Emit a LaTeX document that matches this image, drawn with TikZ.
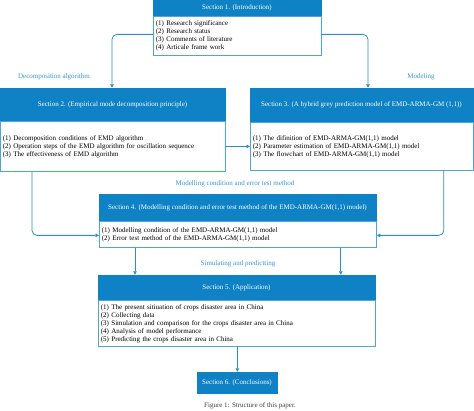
\documentclass[tikz,border=0pt]{standalone}
\usepackage{fontspec}
\setmainfont{Liberation Serif}
\usetikzlibrary{arrows.meta,calc}
\definecolor{hdr}{RGB}{14,130,196}
\definecolor{lnc}{RGB}{40,145,205}
\definecolor{bdc}{RGB}{80,165,215}
\definecolor{lbl}{RGB}{55,150,210}
\tikzset{
  head/.style={fill=hdr, draw=hdr, text=white, inner sep=0pt, font=\fontsize{7}{8}\selectfont, align=center},
  bodybox/.style={draw=bdc, line width=0.8pt, fill=white, inner xsep=2.5pt, inner ysep=0pt, align=left, font=\fontsize{7}{8}\selectfont, anchor=north west},
  conn/.style={draw=lnc, line width=0.8pt, rounded corners=5pt, -{Triangle[length=3.5pt,width=3.5pt]}},
  lab/.style={text=lbl, font=\fontsize{7}{8}\selectfont, inner sep=0pt},
}
\begin{document}
\begin{tikzpicture}[x=1pt,y=-1pt]
\useasboundingbox (0,0) rectangle (474,411);
\clip (0,0) rectangle (474,411);
% Section 1
\node[head, minimum width=168pt, minimum height=16pt] (s1h) at (237,8) {Section 1. (Introduction)};
\node[bodybox, minimum width=168pt, minimum height=39pt, text width=163pt] (s1b) at (153,16) {(1) Research significance\\(2) Research status\\(3) Comments of literature\\(4) Articale frame work};
% Section 2
\node[head, minimum width=225pt, minimum height=33pt] (s2h) at (112.5,104.5) {Section 2. (Empirical mode decomposition principle)};
\node[bodybox, minimum width=225pt, minimum height=50pt, text width=220pt] (s2b) at (0,121) {(1) Decomposition conditions of EMD algorithm\\(2) Operation steps of the EMD algorithm for oscillation sequence\\(3) The effectiveness of EMD algorithm};
% Section 3
\node[head, minimum width=223pt, minimum height=34pt] (s3h) at (361.5,105) {Section 3. (A hybrid grey prediction model of EMD-ARMA-GM (1,1))};
\node[bodybox, minimum width=223pt, minimum height=48pt, text width=218pt] (s3b) at (250,122) {(1) The difinition of EMD-ARMA-GM(1,1) model\\(2) Parameter estimation of EMD-ARMA-GM(1,1) model\\(3) The flowchart of EMD-ARMA-GM(1,1) model};
% Section 4
\node[head, minimum width=277pt, minimum height=27pt] (s4h) at (237.5,207.5) {Section 4. (Modelling condition and error test method of the EMD-ARMA-GM(1,1) model)};
\node[bodybox, minimum width=277pt, minimum height=26pt, text width=272pt] (s4b) at (99,221) {(1) Modelling condition of the EMD-ARMA-GM(1,1) model\\(2) Error test method of the EMD-ARMA-GM(1,1) model};
% Section 5
\node[head, minimum width=277pt, minimum height=25pt] (s5h) at (236.5,287.5) {Section 5. (Application)};
\node[bodybox, minimum width=277pt, minimum height=46pt, text width=272pt] (s5b) at (98,300) {(1) The present sitiuation of crops disaster area in China\\(2) Collecting data\\(3) Simulation and comparison for the crops disaster area in China\\(4) Analysis of model performance\\(5) Predicting the crops disaster area in China};
% Section 6
\node[head, minimum width=80pt, minimum height=21pt] (s6) at (237,382.5) {Section 6. (Conclusions)};
% labels
\node[lab] (l1) at (54,77) {Decomposition algorithm};
\node[lab] (l2) at (421,77) {Modeling};
\node[lab] (l3) at (235,184) {Modelling condition and error test method};
\node[lab] (l4) at (238,264) {Simulating and predictting};
% caption
\node[anchor=base, inner sep=0pt, text=black!75, font=\fontsize{7}{8}\selectfont] (cap) at (250,408) {\textsc{Figure 1:} Structure of this paper.};
% connectors
\draw[conn] ([yshift=1.5pt]s1b.west) -| ([xshift=-0.5pt]s2h.north);
\draw[conn] ([yshift=1.5pt]s1b.east) -| ([xshift=6.5pt]s3h.north);
\draw[conn] (s2b.east) -- (s3b.west |- s2b.east);
\draw[conn] ([xshift=32pt]s2b.south west) |- ([yshift=-1pt]s4b.west);
\draw[conn] ([xshift=-30pt]s3b.south east) |- ([yshift=-1pt]s4b.east);
\draw[conn] ([xshift=36pt]s4b.south west) -- ([xshift=36pt]s4b.south west |- s5h.north);
\draw[conn] ([xshift=-36pt]s4b.south east) -- ([xshift=-36pt]s4b.south east |- s5h.north);
\draw[conn] ([xshift=0.5pt]s5b.south) -- ([xshift=0.5pt]s5b.south |- s6.north);
\end{tikzpicture}
\end{document}
